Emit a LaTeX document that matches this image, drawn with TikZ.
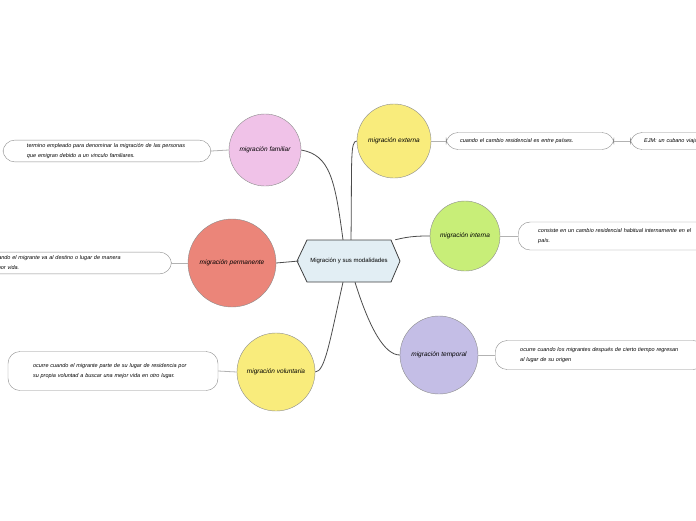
\documentclass[tikz,border=0pt]{standalone}
\usepackage{fontspec}
\setmainfont{Liberation Sans}
\definecolor{cfam}{HTML}{F0C2E8}
\definecolor{cper}{HTML}{EB8579}
\definecolor{cyel}{HTML}{F9EC7C}
\definecolor{cint}{HTML}{C8EE78}
\definecolor{ctem}{HTML}{C4BEE6}
\definecolor{chex}{HTML}{E2EEF4}
\begin{document}
\begin{tikzpicture}[x=1pt,y=-1pt,
 topic/.style={circle,draw=black!45,inner sep=0pt,font=\itshape\fontsize{6.5}{8}\selectfont},
 desc/.style={draw=black!45,rounded corners=12pt,minimum height=17pt,inner xsep=14pt,align=left,font=\itshape\fontsize{5.5}{10}\selectfont,fill=white},
 con/.style={black!70,thick},
 lk/.style={black!30,thick}]
\useasboundingbox (0,0) rectangle (696,520);
\clip (0,0) rectangle (696,520);
\path[draw=black!75,thick,fill=chex] (297,261)--(307,240)--(391,240)--(400,261)--(391,282)--(307,282)--cycle;
\node[font=\fontsize{6}{7}\selectfont\scshape,minimum width=100pt,minimum height=42pt] (ct) at (349,261) {Migración y sus modalidades};
\node[topic,fill=cfam,minimum size=72pt] (f) at (265,150) {migración familiar};
\node[topic,fill=cper,minimum size=88pt] (p) at (232,263) {migración permanente};
\node[topic,fill=cyel,minimum size=78pt] (v) at (276,372) {migración voluntaria};
\node[topic,fill=cyel,minimum size=74pt] (e) at (394,141) {migración externa};
\node[topic,fill=cint,minimum size=70pt] (i) at (465,236) {migración interna};
\node[topic,fill=ctem,minimum size=78pt] (t) at (439,355) {migración temporal};
\draw[con] ([xshift=-6pt]ct.north) .. controls (335,180) and (330,155) .. (f.east);
\draw[con] (ct.west) -- (p.east);
\draw[con] ([xshift=-6pt]ct.south) .. controls (330,340) and (325,372) .. (v.east);
\draw[con] ([xshift=2pt]ct.north) .. controls (352,160) and (350,141) .. (e.west);
\draw[con] ([xshift=-4pt]ct.north east) .. controls (410,236) and (420,236) .. (i.west);
\draw[con] ([xshift=6pt]ct.south) .. controls (370,330) and (385,355) .. (t.west);
\node[desc,minimum width=208pt,text width=160pt] (fd) at (107,151) {termino empleado para denominar la migración de las personas que emigran debido a un vinculo familiares.};
\node[desc,minimum width=190pt,text width=165pt] (pd) at (75,263) {cuando el migrante va al destino o lugar de manera\\ \hspace*{-20pt}ente o de por vida.};
\node[desc,minimum width=210pt,text width=160pt,minimum height=39pt] (vd) at (113,371) {ocurre cuando el migrante parte de su lugar de residencia por su propia voluntad a buscar una mejor vida en otro lugar.};
\node[desc,minimum width=164pt,text width=140pt] (ed) at (530,141) {cuando el cambio residencial es entre países.};
\node[desc,minimum width=100pt,text width=80pt,anchor=west] (ej) at (630,141) {EJM: un cubano viaja a};
\node[desc,minimum width=200pt,text width=160pt,minimum height=28pt,anchor=west] (id) at (518,236) {consiste en un cambio residencial habitual internamente en el país.};
\node[desc,minimum width=210pt,text width=160pt,minimum height=29pt,anchor=west] (td) at (495,355) {ocurre cuando los migrantes después de cierto tiempo regresan al lugar de su origen};
\draw[lk] (f.west) -- (fd.east);
\draw[lk] (p.west) -- (pd.east);
\draw[lk] (v.west) -- (vd.east);
\draw[lk] (e.east) -- (ed.west);
\draw[lk] (ed.east) -- (ej.west);
\draw[lk] (i.east) -- (id.west);
\draw[lk] (t.east) -- (td.west);
\end{tikzpicture}
\end{document}
